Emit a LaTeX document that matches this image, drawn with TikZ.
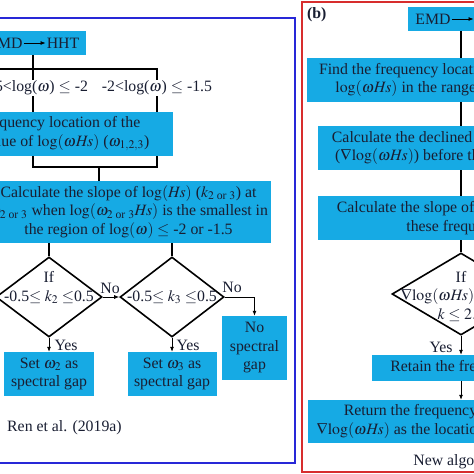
\documentclass[tikz,border=0pt]{standalone}
\usepackage{amsmath}
\usepackage{mathptmx}
\usepackage{fontspec}
\setmainfont{Liberation Serif}
\usetikzlibrary{shapes.geometric,arrows.meta}
\definecolor{boxcyan}{RGB}{22,170,228}
\definecolor{ink}{RGB}{25,30,50}
\definecolor{frameblue}{RGB}{40,40,215}
\definecolor{framered}{RGB}{215,45,45}

\begin{document}
\begin{tikzpicture}[x=1pt,y=-1pt,font=\fontsize{15.8}{18.5}\selectfont,text=ink,
  cyanbox/.style={fill=boxcyan,inner sep=0pt,align=center},
  tree/.style={line width=1.6pt,black},
  arrowline/.style={line width=0.8pt,black,-{Latex[length=5pt,width=4pt]}},
  decision/.style={diamond,draw=black,line width=1.6pt,inner sep=0pt},
  cond/.style={fill=white,inner sep=1pt}]
\useasboundingbox (0,0) rectangle (474,474);
\clip (0,0) rectangle (474,474);
\fill[white] (0,0) rectangle (474,474);

% left panel
\draw[line width=2pt,frameblue] (-20,18) rectangle (295,463);
\node[cyanbox,minimum width=106pt,minimum height=24pt] (hilbertL) at (33,43) {};
\node[inner sep=1pt] (emdL) at (5,43) {EMD};
\node[inner sep=1pt] (hhtL) at (63,43) {HHT};
\draw[arrowline] (emdL) -- (hhtL);
\node[cyanbox,minimum width=280pt,minimum height=44pt] (freqL) at (33,134)
  {Find the frequency location of the\\minimum value of $\log(\omega \mathit{Hs})$ ($\omega_{1,2,3}$)};
\node[cyanbox,minimum width=285pt,minimum height=62pt] (slopeL) at (128.5,212)
  {Calculate the slope of $\log(\mathit{Hs})$ ($k_{2\text{ or }3}$) at\\
   $\omega_{2\text{ or }3}$ when $\log(\omega_{2\text{ or }3}\mathit{Hs})$ is the smallest in\\
   the region of $\log(\omega)\le$ -2 or -1.5};
\node[decision,minimum width=106pt,minimum height=80pt] (dA) at (49,297) {};
\node[decision,minimum width=104pt,minimum height=80pt] (dB) at (172,297) {};
\node[align=center,inner sep=0pt] (ifA) at ([yshift=9.5pt]dA.center) {If\\-0.5$\le k_2 \le$0.5};
\node[inner sep=0pt] (ifB) at (dB) {-0.5$\le k_3 \le$0.5};
\node[cyanbox,minimum width=65pt,minimum height=64pt] (noGap) at (254.5,348) {No\\spectral\\gap};
\node[cyanbox,minimum width=90pt,minimum height=44pt] (setA) at (49,374) {Set $\omega_2$ as\\spectral gap};
\node[cyanbox,minimum width=89pt,minimum height=44pt] (setB) at (172,374) {Set $\omega_3$ as\\spectral gap};
\node[anchor=west,inner sep=0pt] (cite) at (7,428) {Ren et al. (2019a)};

\coordinate (busL) at (-30,69);
\coordinate (busR) at (157,69);
\coordinate (joinA) at (33,167);
\coordinate (joinB) at (157,167);
\coordinate (joinL) at (99,167);
\draw[tree] (hilbertL.south) -- (hilbertL.south |- freqL.north);
\draw[tree] (busL) -- (busR) -- (busR |- freqL.north);
\draw[tree] (joinA |- freqL.south) -- (joinA) -- (joinB) -- (joinB |- freqL.south);
\draw[tree] (joinL) -- (joinL |- slopeL.north);
\draw[tree] (dA.north |- slopeL.south) -- (dA.north);
\draw[tree] (dB.north |- slopeL.south) -- (dB.north);
\node[cond] (rangeA) at (33,88) {-2.5<log($\omega$) $\le$ -2};
\node[cond] (rangeB) at (157,88) {-2<log($\omega$) $\le$ -1.5};
\draw[arrowline] (dA.east) -- (dB.west);
\draw[arrowline] (dB.east) -| (noGap.north);
\draw[arrowline] (dA.south) -- (setA.north);
\draw[arrowline] (dB.south) -- (setB.north);
\node (noA) at (110,288) {No};
\node (noB) at (232,287) {No};
\node (yesA) at (66,345) {Yes};
\node (yesB) at (188,345) {Yes};

% right panel
\draw[line width=2pt,framered] (302,2) rectangle (500,472);
\node[anchor=west,inner sep=0pt] (tag) at (307,15) {\textbf{(b)}};
\node[cyanbox,minimum width=106pt,minimum height=24pt] (hilbertR) at (461,19) {};
\node[inner sep=1pt] (emdR) at (433,19) {EMD};
\node[inner sep=1pt] (hhtR) at (491,19) {HHT};
\draw[arrowline] (emdR) -- (hhtR);
\node[cyanbox,minimum width=308pt,minimum height=44pt] (findR) at (461,80)
  {Find the frequency location of the minima of\\$\log(\omega \mathit{Hs})$ in the range of $\log(\omega)\le$ -1.5};
\node[cyanbox,minimum width=286pt,minimum height=44pt] (declR) at (461,148)
  {Calculate the declined coefficients of the\\($\nabla\!\log(\omega \mathit{Hs})$) before these local minima};
\node[cyanbox,minimum width=286pt,minimum height=44pt] (slopeR) at (461,218)
  {Calculate the slope of $\log(\mathit{Hs})$ ($k$) at all\\these frequencies};
\node[decision,minimum width=138pt,minimum height=82pt] (dR) at (461,294) {};
\node[align=center,inner sep=0pt] (ifR) at ([yshift=-2pt]dR.center)
  {If\\$\nabla\!\log(\omega \mathit{Hs})$$<$0 and\\$k\le 2.5$};
\node[cyanbox,minimum width=178pt,minimum height=26pt] (retainR) at (461,368) {Retain the frequencies};
\node[cyanbox,minimum width=306pt,minimum height=43pt] (returnR) at (461,421.5)
  {Return the frequency with the largest\\$\nabla\!\log(\omega \mathit{Hs})$ as the location of the spectral gap};
\node (algo) at (461,462) {New algorithm};
\draw[tree] (hilbertR) -- (findR);
\draw[tree] (findR) -- (declR);
\draw[tree] (declR) -- (slopeR);
\draw[tree] (slopeR) -- (dR);
\draw[arrowline] (dR) -- (retainR);
\draw[arrowline] (retainR) -- (returnR);
\node (yesR) at (441,347) {Yes};
\end{tikzpicture}
\end{document}
